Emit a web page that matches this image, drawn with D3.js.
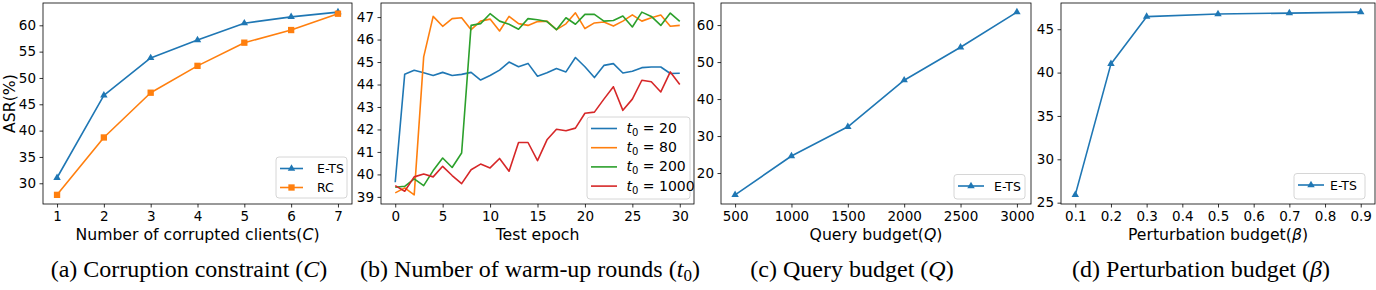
<!DOCTYPE html>
<html>
<head>
<meta charset="utf-8">
<script src="https://cdn.jsdelivr.net/npm/d3@7"></script>
<style>
  html, body { margin: 0; padding: 0; background: #fff; }
  svg { display: block; }
  .tick text { font-family: 'DejaVu Sans', sans-serif; font-size: 13.5px; fill: #000; }
  .axis-label { font-family: 'DejaVu Sans', sans-serif; font-size: 15.7px; fill: #000; }
  .legend text { font-family: 'DejaVu Sans', sans-serif; font-size: 12.5px; fill: #000; }
  .legend text.math { font-size: 14px; }
  .caption { font-family: 'Liberation Serif', 'Times New Roman', serif; font-size: 24px; fill: #000; }
</style>
</head>
<body>
<div id="chart"></div>
<script>
// (a) corruption constraint
const clients = [1, 2, 3, 4, 5, 6, 7];
const etsByClients = [31.05, 46.7, 53.8, 57.2, 60.4, 61.6, 62.5];
const rcByClients = [27.8, 38.7, 47.2, 52.3, 56.7, 59.1, 62.2];

// (b) warm-up rounds
const epochs = [0, 1, 2, 3, 4, 5, 6, 7, 8, 9, 10, 11, 12, 13, 14, 15, 16, 17, 18, 19, 20,
  21, 22, 23, 24, 25, 26, 27, 28, 29, 30];
const warm20 = [39.65, 44.46, 44.63, 44.52, 44.40, 44.54, 44.40, 44.45, 44.54, 44.20, 44.40,
  44.64, 45.00, 44.79, 44.94, 44.37, 44.52, 44.71, 44.56, 45.20, 44.79, 44.31, 44.85, 44.93,
  44.51, 44.59, 44.75, 44.78, 44.78, 44.49, 44.50];
const warm80 = [39.18, 39.40, 39.09, 45.23, 47.03, 46.59, 46.93, 46.97, 46.44, 46.82, 46.91,
  46.38, 47.03, 46.71, 46.63, 46.80, 46.82, 46.44, 46.70, 47.19, 46.49, 46.74, 46.78, 46.60,
  46.82, 47.10, 46.82, 46.97, 47.09, 46.59, 46.63];
const warm200 = [39.43, 39.47, 39.80, 39.50, 40.17, 40.73, 40.31, 40.95, 46.63, 46.71, 47.15,
  46.82, 46.68, 46.46, 46.93, 46.88, 46.80, 46.44, 46.97, 46.68, 47.12, 47.12, 46.82, 46.85,
  47.05, 46.56, 47.22, 47.03, 46.63, 47.18, 46.81];
const warm1000 = [39.50, 39.25, 39.89, 40.02, 39.89, 40.36, 39.95, 39.59, 40.21, 40.46, 40.29,
  40.71, 40.14, 41.42, 41.42, 40.61, 41.54, 42.01, 41.94, 42.06, 42.72, 42.77, 43.35, 43.90,
  42.85, 43.35, 44.19, 44.12, 43.67, 44.56, 44.00];
const warmLabels = ['20', '80', '200', '1000'];

// (c) query budget
const queryBudgets = [500, 1000, 1500, 2000, 2500, 3000];
const etsByQuery = [14.1, 24.6, 32.5, 45.1, 54.0, 63.5];

// (d) perturbation budget
const pertBudgets = [0.1, 0.2, 0.3, 0.5, 0.7, 0.9];
const etsByPert = [25.9, 41.0, 46.45, 46.75, 46.86, 46.97];

// tick labels
const ticksA = { x: [1, 2, 3, 4, 5, 6, 7], y: [30, 35, 40, 45, 50, 55, 60] };
const ticksB = { x: [0, 5, 10, 15, 20, 25, 30], y: [39, 40, 41, 42, 43, 44, 45, 46, 47] };
const ticksC = { x: [500, 1000, 1500, 2000, 2500, 3000], y: [20, 30, 40, 50, 60] };
const ticksD = { x: [0.1, 0.2, 0.3, 0.4, 0.5, 0.6, 0.7, 0.8, 0.9], y: [25, 30, 35, 40, 45] };

const colors = ['#1f77b4', '#ff7f0e', '#2ca02c', '#d62728'];
const W = 1376, H = 290;
const plotTop = 3, plotBottom = 204;

const svg = d3.select('#chart').append('svg').attr('width', W).attr('height', H);

// matplotlib style 5% margins
function padded(values) {
  const [lo, hi] = d3.extent(values);
  const m = (hi - lo) * 0.05;
  return [lo - m, hi + m];
}

function panel({ left, right, xs, series, ticks, xFormat, yLabel, xLabel }) {
  const g = svg.append('g');
  const x = d3.scaleLinear().domain(padded(xs)).range([left, right]);
  const y = d3.scaleLinear()
    .domain(padded(series.flatMap((s) => s.values)))
    .range([plotBottom, plotTop]);

  const xAxis = d3.axisBottom(x).tickValues(ticks.x).tickSize(3.5).tickPadding(3.5)
    .tickFormat(xFormat || d3.format('d'));
  const yAxis = d3.axisLeft(y).tickValues(ticks.y).tickSize(3.5).tickPadding(3.5)
    .tickFormat(d3.format('d'));

  g.append('g').attr('class', 'x axis').attr('transform', `translate(0, ${plotBottom})`).call(xAxis);
  g.append('g').attr('class', 'y axis').attr('transform', `translate(${left}, 0)`).call(yAxis);
  g.selectAll('.axis .domain').remove();
  g.selectAll('.axis .tick line').attr('stroke', '#000').attr('stroke-width', 0.8);

  const line = d3.line().x((d, i) => x(xs[i])).y((d) => y(d));
  series.forEach((s) => {
    g.append('path')
      .datum(s.values)
      .attr('fill', 'none')
      .attr('stroke', s.color)
      .attr('stroke-width', 1.6)
      .attr('stroke-linejoin', 'round')
      .attr('d', line);
    if (s.marker) {
      g.selectAll(null)
        .data(s.values)
        .enter()
        .append('path')
        .attr('transform', (d, i) => `translate(${x(xs[i])}, ${y(d)})`)
        .attr('d', d3.symbol().type(s.marker.type).size(s.marker.size))
        .attr('fill', s.color);
    }
  });

  // spines
  g.append('rect')
    .attr('x', left).attr('y', plotTop)
    .attr('width', right - left).attr('height', plotBottom - plotTop)
    .attr('fill', 'none').attr('stroke', '#000').attr('stroke-width', 0.8);

  const xl = g.append('text')
    .attr('class', 'axis-label')
    .attr('x', (left + right) / 2)
    .attr('y', 240)
    .attr('text-anchor', 'middle');
  xl.append('tspan').text(xLabel[0]);
  if (xLabel[1]) {
    xl.append('tspan').attr('font-style', 'italic').text(xLabel[1]);
    xl.append('tspan').text(')');
  }

  if (yLabel) {
    g.append('text')
      .attr('class', 'axis-label')
      .attr('transform', `translate(15, ${(plotTop + plotBottom) / 2}) rotate(-90)`)
      .attr('text-anchor', 'middle')
      .text(yLabel);
  }
  return g;
}

function legend(g, { x0, y0, w, h, rows, rowH, lineW, textX }) {
  const lg = g.append('g').attr('class', 'legend');
  lg.append('rect')
    .attr('x', x0).attr('y', y0).attr('width', w).attr('height', h)
    .attr('rx', 3)
    .attr('fill', '#fff').attr('fill-opacity', 0.8)
    .attr('stroke', '#ccc').attr('stroke-width', 0.8);
  rows.forEach((r, i) => {
    const cy = y0 + 11.5 + i * rowH;
    lg.append('line')
      .attr('x1', x0 + 4).attr('x2', x0 + 4 + lineW)
      .attr('y1', cy).attr('y2', cy)
      .attr('stroke', r.color).attr('stroke-width', 1.6);
    if (r.marker) {
      lg.append('path')
        .attr('transform', `translate(${x0 + 4 + lineW / 2}, ${cy})`)
        .attr('d', d3.symbol().type(r.marker.type).size(r.marker.size))
        .attr('fill', r.color);
    }
    const t = lg.append('text').attr('x', x0 + textX).attr('y', cy + 4.5);
    if (r.sub) {
      t.attr('class', 'math');
      t.append('tspan').attr('font-style', 'italic').text('t');
      t.append('tspan').attr('font-size', '10px').attr('dy', 3).text('0');
      t.append('tspan').attr('dy', -3).text(' = ' + r.label);
    } else {
      t.text(r.label);
    }
  });
}

const tri = { type: d3.symbolTriangle, size: 24 };
const sq = { type: d3.symbolSquare, size: 40 };

// (a)
const ga = panel({
  left: 43, right: 352, xs: clients,
  series: [
    { values: etsByClients, color: colors[0], marker: tri },
    { values: rcByClients, color: colors[1], marker: sq },
  ],
  ticks: ticksA, yLabel: 'ASR(%)', xLabel: ['Number of corrupted clients(', 'C'],
});
legend(ga, {
  x0: 276, y0: 157, w: 71, h: 41, rowH: 19, lineW: 23, textX: 41,
  rows: [
    { label: 'E-TS', color: colors[0], marker: tri },
    { label: 'RC', color: colors[1], marker: sq },
  ],
});

// (b)
const gb = panel({
  left: 381, right: 694, xs: epochs,
  series: [warm20, warm80, warm200, warm1000].map((v, i) => ({ values: v, color: colors[i] })),
  ticks: ticksB, xLabel: ['Test epoch'],
});
legend(gb, {
  x0: 587, y0: 117, w: 103, h: 82, rowH: 19.2, lineW: 26, textX: 39.5,
  rows: warmLabels.map((l, i) => ({ label: l, color: colors[i], sub: true })),
});

// (c)
const gc = panel({
  left: 721, right: 1031, xs: queryBudgets,
  series: [{ values: etsByQuery, color: colors[0], marker: tri }],
  ticks: ticksC, xLabel: ['Query budget(', 'Q'],
});
legend(gc, {
  x0: 954, y0: 174.5, w: 71, h: 24.5, rowH: 19, lineW: 26, textX: 40,
  rows: [{ label: 'E-TS', color: colors[0], marker: tri }],
});

// (d)
const gd = panel({
  left: 1061, right: 1375, xs: pertBudgets,
  series: [{ values: etsByPert, color: colors[0], marker: tri }],
  ticks: ticksD, xFormat: d3.format('.1f'), xLabel: ['Perturbation budget(', 'β'],
});
legend(gd, {
  x0: 1294, y0: 173.5, w: 71, h: 25.5, rowH: 19, lineW: 26, textX: 36,
  rows: [{ label: 'E-TS', color: colors[0], marker: tri }],
});

// captions
const captions = [
  { cx: 189, parts: ['(a) Corruption constraint (', 'C', ')'] },
  { cx: 530, parts: ['(b) Number of warm-up rounds (', 't', ')'], sub: '0' },
  { cx: 852, parts: ['(c) Query budget (', 'Q', ')'] },
  { cx: 1201, parts: ['(d) Perturbation budget (', 'β', ')'] },
];
captions.forEach((c) => {
  const t = svg.append('text')
    .attr('class', 'caption')
    .attr('x', c.cx).attr('y', 277)
    .attr('text-anchor', 'middle');
  t.append('tspan').text(c.parts[0]);
  t.append('tspan').attr('font-style', 'italic').text(c.parts[1]);
  if (c.sub) {
    t.append('tspan').attr('font-size', '17px').attr('dy', 4).text(c.sub);
    t.append('tspan').attr('dy', -4).text(c.parts[2]);
  } else {
    t.append('tspan').text(c.parts[2]);
  }
});
</script>
</body>
</html>
